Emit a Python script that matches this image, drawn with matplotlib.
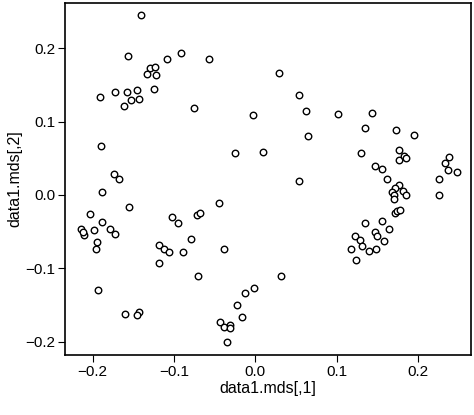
import matplotlib
matplotlib.use("Agg")
import matplotlib.pyplot as plt

plt.rcParams['font.family'] = ['Liberation Sans', 'DejaVu Sans']

x = [-0.140,-0.157,-0.092,-0.109,-0.057,-0.130,-0.123,-0.133,-0.122,-0.191,-0.172,-0.158,-0.146,-0.124,
     -0.153,-0.143,-0.161,-0.076,-0.003,-0.190,-0.025,0.009,-0.174,-0.168,-0.188,
     -0.155,-0.203,-0.189,-0.214,-0.211,-0.212,-0.198,-0.179,-0.172,-0.195,-0.196,-0.194,-0.160,-0.143,-0.145,
     -0.103,-0.095,-0.072,-0.068,-0.045,-0.118,-0.112,-0.106,-0.089,-0.079,-0.118,-0.038,-0.071,-0.002,-0.013,
     -0.023,-0.016,-0.043,-0.039,-0.031,-0.031,-0.035,
     0.029,0.054,0.062,0.102,0.143,0.134,0.173,0.195,0.065,0.130,0.176,0.176,0.183,0.185,0.238,0.233,0.236,
     0.248,0.226,0.147,0.156,0.162,0.054,0.176,0.172,0.181,0.168,0.185,0.226,0.170,
     0.170,0.171,0.174,0.178,0.135,0.156,0.164,0.147,0.149,0.122,0.128,0.131,0.118,0.139,0.148,0.158,0.124,0.032]
y = [0.245,0.189,0.194,0.185,0.186,0.173,0.174,0.165,0.163,0.134,0.140,0.140,0.143,0.144,
     0.129,0.131,0.121,0.119,0.109,0.067,0.057,0.059,0.028,0.022,0.004,
     -0.017,-0.026,-0.037,-0.046,-0.054,-0.050,-0.048,-0.046,-0.053,-0.064,-0.074,-0.130,-0.162,-0.160,-0.164,
     -0.030,-0.038,-0.027,-0.024,-0.011,-0.068,-0.074,-0.078,-0.078,-0.060,-0.093,-0.073,-0.110,-0.127,-0.134,
     -0.150,-0.166,-0.173,-0.180,-0.177,-0.182,-0.201,
     0.167,0.137,0.115,0.110,0.112,0.091,0.089,0.082,0.081,0.057,0.062,0.048,0.053,0.050,0.052,0.043,0.034,
     0.032,0.022,0.039,0.035,0.022,0.019,0.014,0.010,0.006,0.004,0.000,0.000,0.000,
     -0.006,-0.024,-0.022,-0.021,-0.038,-0.035,-0.047,-0.050,-0.056,-0.056,-0.062,-0.070,-0.073,-0.076,-0.073,-0.063,-0.088,-0.110]

fig = plt.figure(figsize=(4.74, 4.15), dpi=100)
ax = fig.add_axes([0.137, 0.145, 0.857, 0.848])
ax.scatter(x, y, s=22, facecolors='white', edgecolors='black', linewidths=1.0)
ax.set_xlim(-0.234, 0.265)
ax.set_ylim(-0.218, 0.262)
ax.set_xticks([-0.2, -0.1, 0.0, 0.1, 0.2])
ax.set_yticks([-0.2, -0.1, 0.0, 0.1, 0.2])
ax.tick_params(labelsize=11, length=5, pad=2)
ax.set_xlabel("data1.mds[,1]", fontsize=11.5, labelpad=2)
ax.set_ylabel("data1.mds[,2]", fontsize=11.5, labelpad=2)
for s in ax.spines.values():
    s.set_linewidth(1.2)
fig.savefig("out.png", dpi=100)
